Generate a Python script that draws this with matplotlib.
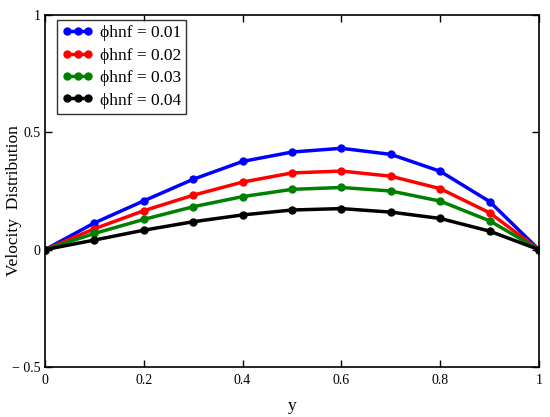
import matplotlib
matplotlib.use("Agg")
import matplotlib.pyplot as plt
import numpy as np

y_pos = [0, 0.1, 0.2, 0.3, 0.4, 0.5, 0.6, 0.7, 0.8, 0.9, 1.0]
v_001 = [0, 0.114, 0.208, 0.300, 0.376, 0.416, 0.432, 0.406, 0.334, 0.205, 0]
v_002 = [0, 0.089, 0.166, 0.232, 0.288, 0.327, 0.335, 0.313, 0.260, 0.157, 0]
v_003 = [0, 0.069, 0.129, 0.183, 0.226, 0.257, 0.265, 0.250, 0.207, 0.123, 0]
v_004 = [0, 0.041, 0.083, 0.119, 0.148, 0.169, 0.175, 0.160, 0.133, 0.079, 0]
labels = ["\u03d5hnf = 0.01", "\u03d5hnf = 0.02", "\u03d5hnf = 0.03", "\u03d5hnf = 0.04"]
colors = ["#0000ff", "#ff0000", "#008000", "#000000"]
xticks = [0, 0.2, 0.4, 0.6, 0.8, 1]
xticklabels = ["0", "0.2", "0.4", "0.6", "0.8", "1"]
yticks = [-0.5, 0, 0.5, 1]
yticklabels = ["\u2212 0.5", "0", "0.5", "1"]

plt.rcParams['font.family'] = ['Liberation Serif', 'DejaVu Serif']

fig = plt.figure(figsize=(5.5, 4.17), dpi=100)
ax = fig.add_axes([45/550, 1-367/417, (539-45)/550, (367-15)/417])

for vals, lab, c in zip([v_001, v_002, v_003, v_004], labels, colors):
    ax.plot(y_pos, vals, color=c, lw=2.5, marker='o', ms=5, label=lab)

ax.set_xlim(0, 1)
ax.set_ylim(-0.5, 1)
ax.set_xticks(xticks)
ax.set_xticklabels(xticklabels)
ax.set_yticks(yticks)
ax.set_yticklabels(yticklabels)
ax.tick_params(direction='in', top=True, right=True, labelsize=10, length=5, width=1)
ax.tick_params(axis='x', pad=5)
ax.tick_params(axis='y', pad=3)
for s in ax.spines.values():
    s.set_linewidth(1.2)
ax.set_xlabel("y", fontsize=12.5)
ax.xaxis.set_label_coords(0.5, -0.088)
ax.set_ylabel("Velocity  Distribution", fontsize=12.5)
ax.yaxis.set_label_coords(-0.046, 0.474)

leg = ax.legend(loc='upper left', bbox_to_anchor=(12/494, 1 - 5/352), numpoints=3, fontsize=12.5,
                frameon=True, fancybox=False, handlelength=1.8, handletextpad=0.35,
                borderpad=0.3, labelspacing=0.36, borderaxespad=0.0)
leg.get_frame().set_edgecolor('black')
leg.get_frame().set_linewidth(1.0)

fig.savefig("out.png", dpi=100)
